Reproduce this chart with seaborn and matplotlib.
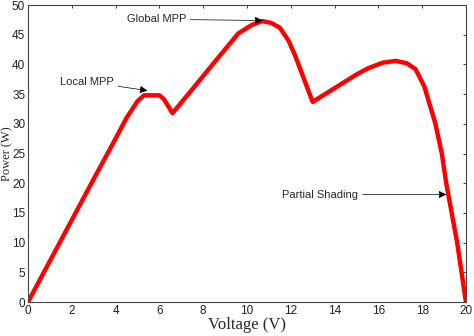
import matplotlib
matplotlib.use("Agg")
import matplotlib.pyplot as plt
import seaborn as sns
import pandas as pd

voltage = [0, 1, 2, 3, 4, 4.5, 5.0, 5.3, 5.6, 6.0, 6.2, 6.4, 6.6, 7.5, 8.5, 9.6,
           10.2, 10.7, 11.1, 11.5, 11.9, 12.2, 12.6, 13.0, 14.0, 15.0, 15.5, 16.2,
           16.8, 17.3, 17.7, 18.1, 18.6, 18.9, 19.1, 19.35, 19.6, 19.8, 20.0]
power = [0, 6.9, 13.8, 20.7, 27.5, 31.0, 33.8, 34.8, 34.8, 34.8, 34.2, 33.0, 31.8,
         35.8, 40.3, 45.2, 46.6, 47.3, 47.0, 46.2, 44.0, 41.5, 37.6, 33.7, 36.0,
         38.3, 39.3, 40.3, 40.6, 40.2, 39.2, 36.3, 30.1, 25.0, 20.0, 15.0, 10.0,
         5.0, 0.0]

annot_text = ["Global MPP", "Local MPP", "Partial Shading"]
annot_xy = [(10.7, 47.4), (5.45, 35.6), (19.1, 18.1)]
annot_text_xy = [(4.5, 47.6), (1.45, 37.1), (11.6, 18.1)]

df = pd.DataFrame({"Voltage": voltage, "Power": power})

sns.set_style("white")
plt.rcParams["font.family"] = ["Liberation Sans", "DejaVu Sans"]

fig = plt.figure(figsize=(4.74, 3.36), dpi=100)
ax = fig.add_axes([0.059, 0.101, 0.924, 0.884])

sns.lineplot(data=df, x="Voltage", y="Power", sort=False, color="#ff0000",
             linewidth=3.2, ax=ax, solid_joinstyle="round", solid_capstyle="round")

ax.set_xlim(0, 20)
ax.set_ylim(0, 50)
ax.set_xticks(range(0, 21, 2))
ax.set_yticks(range(0, 51, 5))
ax.tick_params(direction="in", length=2.5, width=0.6, labelsize=8.5, pad=2,
               top=True, right=True, colors="#222222")
for s in ax.spines.values():
    s.set_linewidth(0.8)
    s.set_color("#444444")
    s.set_visible(True)

ax.set_xlabel("Voltage (V)", fontsize=12, family=["Liberation Serif"], labelpad=0)
ax.set_ylabel("Power (W)", fontsize=9, family=["Liberation Serif"])
ax.yaxis.set_label_coords(-0.034, 0.5)

for t, xy, txy in zip(annot_text, annot_xy, annot_text_xy):
    ax.annotate(t, xy=xy, xytext=txy, fontsize=8, va="center", ha="left",
                arrowprops=dict(arrowstyle="-|>", color="black", lw=0.5,
                                mutation_scale=11, shrinkA=1, shrinkB=0))

fig.savefig("out.png", dpi=100)
